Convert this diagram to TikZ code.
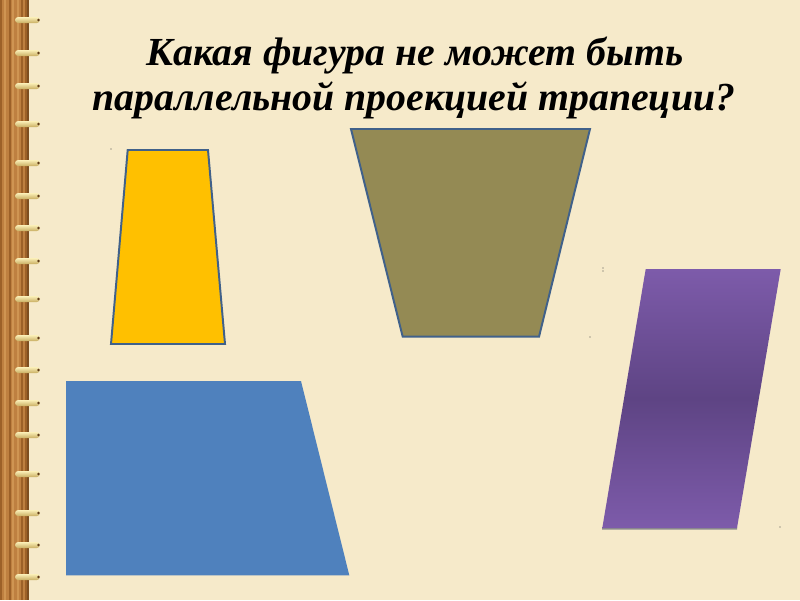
\documentclass[tikz,border=0pt]{standalone}
\usepackage{fontspec}
\setmainfont{Liberation Serif}
\definecolor{paper}{HTML}{F6EACA}
\definecolor{woodmid}{HTML}{BE8040}
\definecolor{woodlight}{HTML}{CF9552}
\definecolor{wooddark}{HTML}{9C6128}
\definecolor{ringlight}{HTML}{FBF0B8}
\definecolor{ringdark}{HTML}{C9AE62}
\definecolor{edgeblue}{HTML}{40618A}
\definecolor{gold}{HTML}{FFC000}
\definecolor{olive}{HTML}{948A54}
\definecolor{skyblue}{HTML}{4F81BD}
\definecolor{purpletop}{HTML}{7D5BAA}
\definecolor{purplemid}{HTML}{5E4484}

\begin{document}
\begin{tikzpicture}[x=0.025cm,y=-0.025cm,
	edge/.style={draw=edgeblue, line width=1.4pt, line join=miter},
	ring/.style={top color=ringlight, bottom color=ringdark, rounded corners=2.2},
	title/.style={font=\fontsize{28.3}{34}\selectfont\bfseries\itshape, inner sep=0pt, anchor=base},
	speck/.style={fill=black!70}]
		\useasboundingbox (0,0) rectangle (800,600);
		\fill[paper] (0,0) rectangle (800,600);
		
		\fill[woodmid] (0,0) rectangle (28,600);
		\foreach \x/\c in {0/wooddark, 4/woodlight, 9/wooddark, 12/woodlight, 17/woodlight, 21/wooddark, 25/wooddark}
			\fill[\c] (\x,0) rectangle ++(2,600);
		\fill[wooddark!80!black] (27,0) rectangle (28.5,600);
		\foreach \y in {20,53,86,124,163,196,228,261,299,338,370,403,435,474,513,545,577} {
			\shade[ring] (15,\y-3) rectangle (40,\y+3);
			\fill[wooddark!60!black] (38.5,\y) circle (1.3);
		}
		
		\node[title] (line1) at (415,65) {Какая фигура не может быть};
		\node[title] (line2) at (414,110) {параллельной проекцией трапеции?};
		
		\filldraw[edge, fill=gold] (127.7,150) -- (208,150) -- (225,344) -- (111,344) -- cycle;
		\filldraw[edge, fill=olive] (351,129) -- (590,129) -- (539,336.7) -- (402.7,336.7) -- cycle;
		\fill[skyblue] (66,381) -- (301,381) -- (349.3,575.3) -- (66,575.3) -- cycle;
		\fill[black!45] (602.3,527) -- (737,527) -- (737,529.5) -- (602,529.5) -- cycle;
		\shade[top color=purpletop, bottom color=purpletop, middle color=purplemid]
			(645.7,269) -- (780.7,269) -- (737,528) -- (602.3,528) -- cycle;
		
		\foreach \p in {(111,149), (603,268), (603,271), (590,337), (780,527)}
			\fill[speck] \p circle (0.7);
	\end{tikzpicture}
\end{document}
